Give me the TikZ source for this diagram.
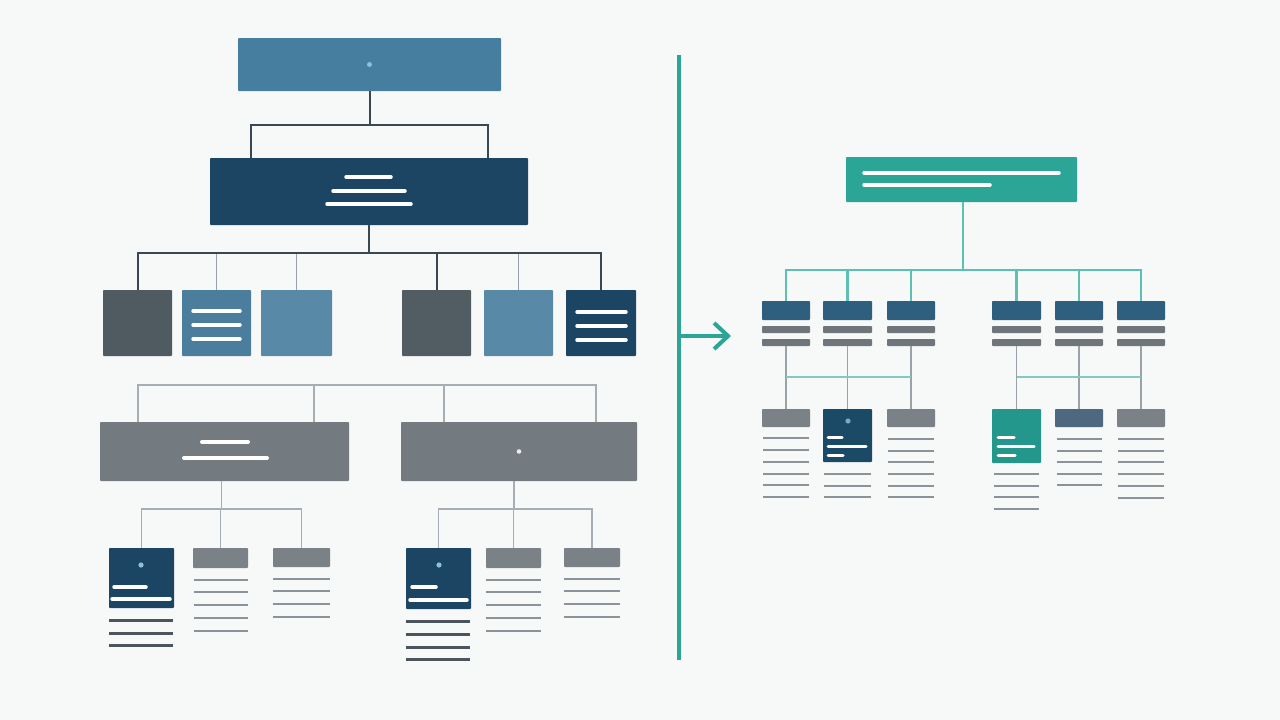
\documentclass[tikz,border=0pt]{standalone}
\usetikzlibrary{arrows.meta}

% palette
\definecolor{bg}{HTML}{F7F8F8}
\definecolor{steel}{HTML}{467E9F}
\definecolor{navy}{HTML}{1B4563}
\definecolor{navyB}{HTML}{1B4A66}
\definecolor{slate}{HTML}{4F5A61}
\definecolor{slateB}{HTML}{525C63}
\definecolor{steelA}{HTML}{4B7D9C}
\definecolor{steelB}{HTML}{5889A7}
\definecolor{midgray}{HTML}{737B80}
\definecolor{hdrgray}{HTML}{7A8287}
\definecolor{accent}{HTML}{2AA596}
\definecolor{accentcard}{HTML}{23978B}
\definecolor{hdrblue}{HTML}{2E5F7E}
\definecolor{hdrslate}{HTML}{4E6880}
\definecolor{bargray}{HTML}{6E767B}
\definecolor{darkconn}{HTML}{3B4852}
\definecolor{lightconn}{HTML}{9AA2A7}
\definecolor{paleconn}{HTML}{A6AEB3}
\definecolor{accentconn}{HTML}{5CC0B2}
\definecolor{accentpale}{HTML}{80CABF}
\definecolor{rulegray}{HTML}{8C9398}
\definecolor{ruledark}{HTML}{4C555B}
\definecolor{dotblue}{HTML}{8EC0DC}

% a filled block given by its corner pixels: name, x1, y1, x2, y2, style
\newcommand\rectnode[6]{%
  \node[block,#6,minimum width={#4pt-#2pt},minimum height={#5pt-#3pt}]
    (#1) at ({(#2+#4)/2},{(#3+#5)/2}) {};}

\tikzset{
  block/.style={draw=none,inner sep=0pt,outer sep=0pt,rounded corners=0.8pt},
  dconn/.style={draw=darkconn,line width=2pt},
  lconn/.style={draw=lightconn,line width=1.6pt},
  pconn/.style={draw=paleconn,line width=1.6pt},
  aconn/.style={draw=accentconn,line width=2.2pt},
  apale/.style={draw=accentpale,line width=1.8pt},
  whiteline/.style={draw=white,line width=3.5pt,line cap=round},
  thinwhite/.style={draw=white,line width=3pt,line cap=round},
  rulelight/.style={draw=rulegray,line width=1.8pt},
  ruleheavy/.style={draw=ruledark,line width=3pt},
}

\begin{document}
\begin{tikzpicture}[x=1pt,y=-1pt]
\useasboundingbox (0,0) rectangle (1280,720);
\fill[bg] (0,0) rectangle (1280,720);

% ---------------- left hierarchy ----------------
\rectnode{top}{238}{38}{501}{91}{fill=steel}
\fill[dotblue] (top.center) circle (2.5);

\rectnode{sec}{210}{158}{528}{225}{fill=navy}
\draw[whiteline] (346,177) -- (391,177);
\draw[whiteline] (333,191) -- (405,191);
\draw[whiteline] (327,204) -- (411,204);

\draw[dconn] (top.south) -- ++(0,34) coordinate (busT);
\draw[dconn] ([xshift=41]sec.north west) |- (busT) -| ([xshift=-40]sec.north east);

% row of six squares
\rectnode{sq1}{103}{290}{172}{356}{fill=slate}
\rectnode{sq2}{182}{290}{251}{356}{fill=steelA}
\rectnode{sq3}{261}{290}{332}{356}{fill=steelB}
\rectnode{sq4}{402}{290}{471}{356}{fill=slateB}
\rectnode{sq5}{484}{290}{553}{356}{fill=steelB}
\rectnode{sq6}{566}{290}{636}{356}{fill=navy}
\foreach \y in {311,325,339} \draw[whiteline] (193,\y) -- (240,\y);
\foreach \y in {312,326,340} \draw[whiteline] (577,\y) -- (626,\y);

\draw[dconn] (sec.south) -- ++(0,28) coordinate (busM);
\draw[lconn] (sq2.north) -- (sq2.north |- busM);
\draw[lconn] (sq3.north) -- (sq3.north |- busM);
\draw[lconn] (sq5.north) -- (sq5.north |- busM);
\draw[dconn] (sq4.north) -- (sq4.north |- busM);
\draw[dconn] (sq1.north) |- (busM) -| (sq6.north);

% two grey group boxes
\rectnode{gA}{100}{422}{349}{481}{fill=midgray}
\rectnode{gB}{401}{422}{637}{481}{fill=midgray}
\draw[whiteline,line width=4pt] (202,442) -- (248,442);
\draw[whiteline,line width=4pt] (184,458) -- (267,458);
\fill[white!85!midgray] (gB.center) circle (2.3);

\draw[pconn] ([xshift=38]gA.north west) -- ++(0,-37) -| ([xshift=-41]gB.north east);
\draw[pconn] ([xshift=-35]gA.north east) -- ++(0,-37);
\draw[pconn] ([xshift=43]gB.north west) -- ++(0,-37);

% children of the first group box
\rectnode{cA1}{109}{548}{174}{608}{fill=navy}
\rectnode{cA2}{193}{548}{248}{568}{fill=hdrgray}
\rectnode{cA3}{273}{548}{330}{567}{fill=hdrgray}
\fill[dotblue] (141,565) circle (2.6);
\draw[whiteline] (114,587) -- (146,587);
\draw[whiteline] (112,599) -- (170,599);
\foreach \y in {620,633,645} \draw[ruleheavy] (109,\y) -- (173,\y);
\foreach \y in {580,592,605,618,631} \draw[rulelight] (194,\y) -- (248,\y);
\foreach \y in {579,591,604,617} \draw[rulelight] (273,\y) -- (330,\y);

\draw[pconn] ([xshift=-3]gA.south) -- ++(0,28) coordinate (busA);
\draw[pconn] (cA2.north) -- (cA2.north |- busA);
\draw[pconn] (cA1.north) |- (busA) -| (cA3.north);

% children of the second group box
\rectnode{cB1}{406}{548}{471}{609}{fill=navy}
\rectnode{cB2}{486}{548}{541}{568}{fill=hdrgray}
\rectnode{cB3}{564}{548}{620}{567}{fill=hdrgray}
\fill[dotblue] (439,565) circle (2.6);
\draw[whiteline] (412,587) -- (436,587);
\draw[whiteline] (410,600) -- (467,600);
\foreach \y in {621,634,647,659} \draw[ruleheavy] (406,\y) -- (470,\y);
\foreach \y in {580,592,605,618,631} \draw[rulelight] (486,\y) -- (541,\y);
\foreach \y in {579,591,604,617} \draw[rulelight] (564,\y) -- (620,\y);

\draw[pconn] ([xshift=-5]gB.south) -- ++(0,28) coordinate (busB);
\draw[pconn] (cB2.north) -- (cB2.north |- busB);
\draw[pconn] (cB1.north) |- (busB) -| (cB3.north);

% ---------------- divider and arrow ----------------
\coordinate (dtop) at (679,55);
\coordinate (dbot) at (679,660);
\draw[accent,line width=4pt] (dtop) -- (dbot);
\coordinate (arrS) at (681,336);
\coordinate (arrE) at (731,336);
\draw[accent,line width=4pt,-{Straight Barb[length=14pt,width=26pt]}] (arrS) -- (arrE);

% ---------------- right hierarchy ----------------
\rectnode{rtop}{846}{157}{1077}{202}{fill=accent}
\draw[whiteline] (864,173) -- (1059,173);
\draw[whiteline] (864,185) -- (990,185);

% six mid cards: header plus two bars
\foreach \n/\a/\b in {1/762/810,2/823/872,3/887/935,4/992/1041,5/1055/1103,6/1117/1165}{
  \rectnode{mh\n}{\a}{301}{\b}{320}{fill=hdrblue}
  \rectnode{mbA\n}{\a}{326}{\b}{333}{fill=bargray}
  \rectnode{mbB\n}{\a}{339}{\b}{346}{fill=bargray}
}

\draw[aconn] ([xshift=1.5]rtop.south) -- ++(0,68) coordinate (busR);
\foreach \n in {2,3,4,5} \draw[aconn] (mh\n.north) -- (mh\n.north |- busR);
\draw[aconn] (mh1.north) |- (busR) -| (mh6.north);

% bottom cards
\rectnode{lo1}{762}{409}{810}{427}{fill=hdrgray}
\rectnode{lo2}{823}{409}{872}{462}{fill=navyB}
\rectnode{lo3}{887}{409}{935}{427}{fill=hdrgray}
\rectnode{lo4}{992}{409}{1041}{463}{fill=accentcard}
\rectnode{lo5}{1055}{409}{1103}{427}{fill=hdrslate}
\rectnode{lo6}{1117}{409}{1165}{427}{fill=hdrgray}

\foreach \n in {1,...,6} \draw[lconn] (mbB\n.south) -- (lo\n.north);
\coordinate (hy) at (0,377);
\draw[apale] (lo1.north |- hy) -- (lo3.north |- hy);
\draw[apale] (lo4.north |- hy) -- (lo6.north |- hy);

\fill[dotblue!80!navyB] (848,421) circle (2.6);
\draw[thinwhite] (828,437) -- (842,437);
\draw[thinwhite] (828,446) -- (866,446);
\draw[thinwhite] (828,455) -- (843,455);
\draw[thinwhite] (998,437) -- (1014,437);
\draw[thinwhite] (998,446) -- (1034,446);
\draw[thinwhite] (998,455) -- (1015,455);

\foreach \y in {438,450,462,474,485,497} \draw[rulelight] (763,\y) -- (809,\y);
\foreach \y in {474,486,497} \draw[rulelight] (824,\y) -- (871,\y);
\foreach \y in {439,451,462,474,486,497} \draw[rulelight] (888,\y) -- (934,\y);
\foreach \y in {474,486,497,509} \draw[rulelight] (994,\y) -- (1039,\y);
\foreach \y in {439,451,462,474,485} \draw[rulelight] (1057,\y) -- (1102,\y);
\foreach \y in {439,451,462,474,486,498} \draw[rulelight] (1118,\y) -- (1164,\y);

\end{tikzpicture}
\end{document}
